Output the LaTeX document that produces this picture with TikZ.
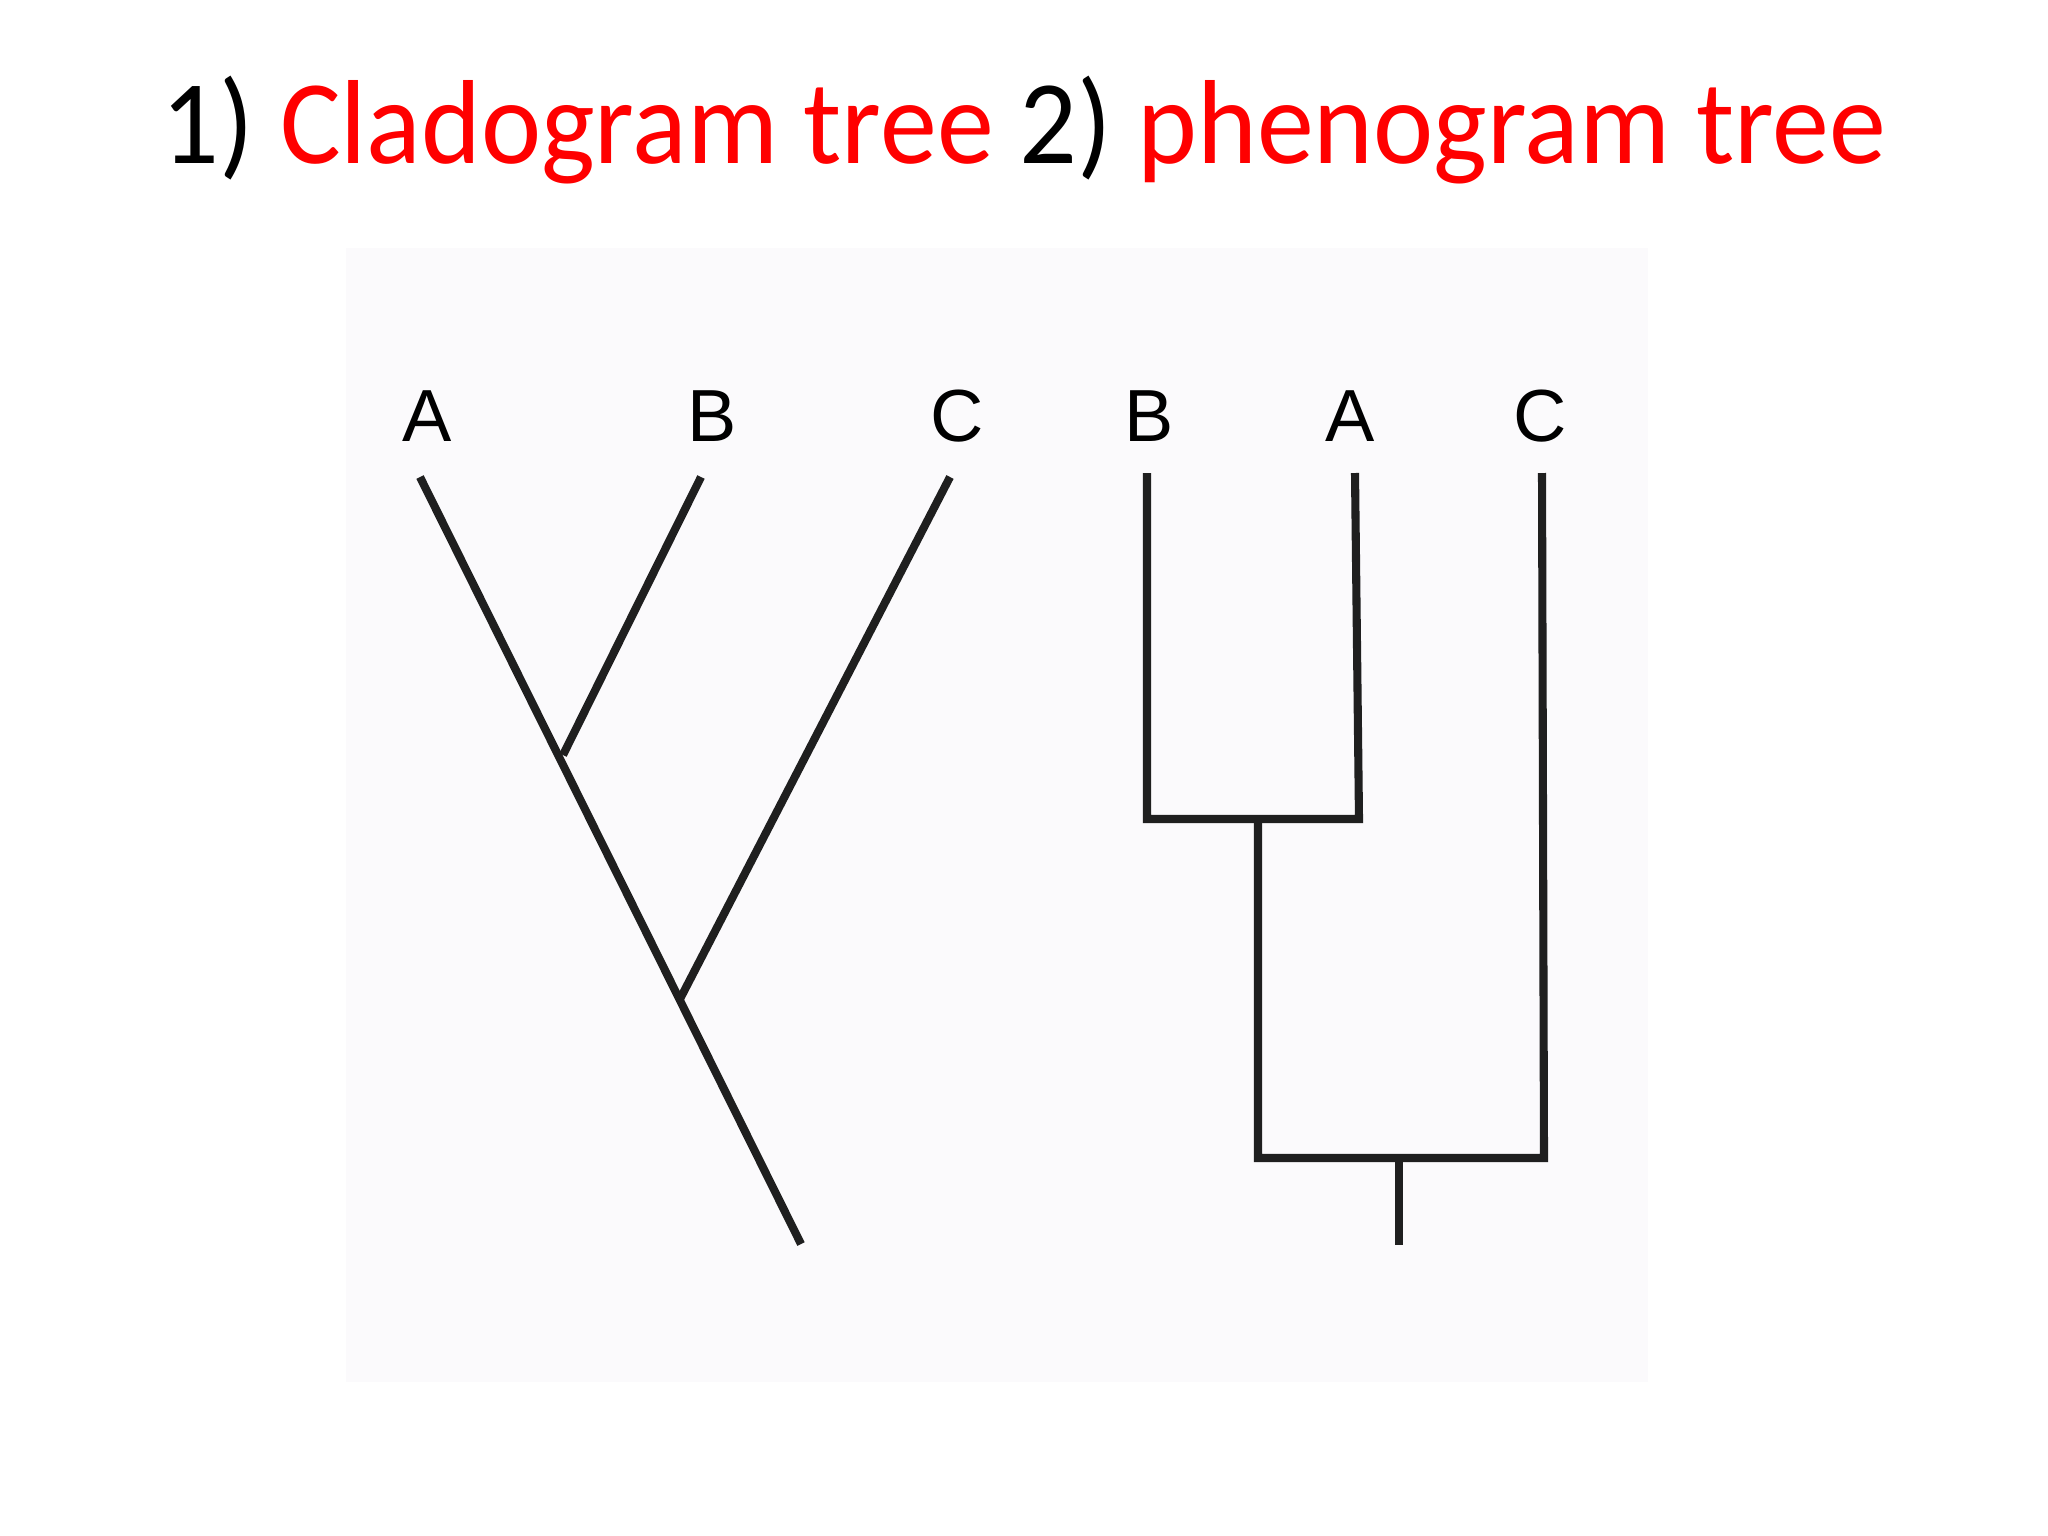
\documentclass[tikz,border=0pt]{standalone}
\usepackage{fontspec}
\setmainfont{Carlito}
\newfontfamily\labelfont{Liberation Sans}
\usetikzlibrary{positioning}

\definecolor{titlered}{RGB}{255,0,0}
\definecolor{imgbg}{RGB}{251,250,252}

\tikzset{
	branch/.style={line width=2.3pt, black!88, line cap=butt, line join=miter},
	taxon/.style={font=\labelfont\fontsize{21}{21}\selectfont, anchor=base, inner sep=0pt},
}

\begin{document}
\begin{tikzpicture}[x=0.01cm, y=-0.01cm]

	\useasboundingbox[fill=white] (0,0) rectangle (2048,1536);
	\fill[imgbg] (346,248) rectangle (1648,1382);

	\node[anchor=base, inner sep=0pt, font=\fontsize{34}{40}\selectfont] (title) at (1024,163) {\scalebox{0.953}[1]{1) \textcolor{titlered}{Cladogram tree} 2) \textcolor{titlered}{phenogram tree}}};

	% cladogram
	\node[taxon] (cA) at (427,441) {A};
	\node[taxon] (cB) at (712,441) {B};
	\node[taxon] (cC) at (957,441) {C};
	\coordinate (cAt) at (420,477);
	\coordinate (cBt) at (701,477);
	\coordinate (cCt) at (950,477);
	\coordinate (cJ1) at (563,755);
	\coordinate (cJ2) at (680,999);
	\coordinate (cRoot) at (801,1244);

	\draw[branch] (cAt) -- (cRoot);
	\draw[branch] (cBt) -- (cJ1);
	\draw[branch] (cCt) -- (cJ2);

	% phenogram
	\node[taxon] (pB) at (1149,441) {B};
	\node[taxon] (pA) at (1350,441) {A};
	\node[taxon] (pC) at (1540,441) {C};
	\coordinate (pBt) at (1147,473);
	\coordinate (pAt) at (1355,473);
	\coordinate (pCt) at (1542,473);
	\coordinate (pBb) at (1147,819);
	\coordinate (pAb) at (1359,819);
	\coordinate (pM) at (1258,819);
	\coordinate (pMb) at (1258,1158);
	\coordinate (pCb) at (1544,1158);
	\coordinate (pR) at (1399,1158);
	\coordinate (pRb) at (1399,1245);

	\draw[branch] (pBt) -- (pBb) -- (pAb) -- (pAt);
	\draw[branch] (pM) -- (pMb) -- (pCb) -- (pCt);
	\draw[branch] (pR) -- (pRb);

\end{tikzpicture}
\end{document}
